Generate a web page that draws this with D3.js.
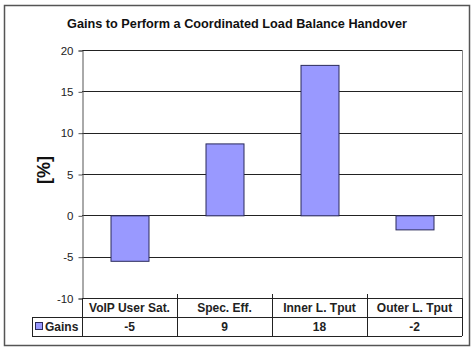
<!DOCTYPE html>
<html><head><meta charset="utf-8">
<script src="https://cdn.jsdelivr.net/npm/d3@7"></script>
<style>body{margin:0;background:#fff}svg{display:block}text{font-family:Arial,"Liberation Sans",sans-serif}</style>
</head><body>
<script>
const categories = ["VoIP User Sat.", "Spec. Eff.", "Inner L. Tput", "Outer L. Tput"];
const gains = [-5.5, 8.7, 18.2, -1.7];
const tableLabels = ["-5", "9", "18", "-2"];
const yTicks = [20, 15, 10, 5, 0, -5, -10];
const seriesName = "Gains";
const title = "Gains to Perform a Coordinated Load Balance Handover";

const W = 474, H = 349;
const svg = d3.select("body").append("svg").attr("width", W).attr("height", H);

// outer frame
svg.append("rect").attr("x", 4.5).attr("y", 5.5).attr("width", 465).attr("height", 340)
  .attr("fill", "#fff").attr("stroke", "#555").attr("stroke-width", 1.5);

const L = 82, R = 462, T = 50, B = 298;
const y = d3.scaleLinear().domain([-10, 20]).range([B, T]);
const x = d3.scaleBand().domain(categories).range([L, R]).paddingInner(0.6).paddingOuter(0.3);
const band = d3.scaleBand().domain(categories).range([L, R]);

// title
svg.append("text").attr("x", 237).attr("y", 28).attr("text-anchor", "middle")
  .attr("font-size", 12.7).attr("font-weight", "bold").attr("fill", "#111").text(title);

// gridlines
svg.append("g").selectAll("line").data(yTicks).join("line")
  .attr("x1", L).attr("x2", R).attr("y1", d => Math.round(y(d)) + 0.5).attr("y2", d => Math.round(y(d)) + 0.5)
  .attr("stroke", "#222").attr("stroke-width", 1);
// plot right border
svg.append("line").attr("x1", R + 0.5).attr("x2", R + 0.5).attr("y1", T).attr("y2", B).attr("stroke", "#888");

// y axis
const yAxis = d3.axisLeft(y).tickValues(yTicks).tickSize(4).tickPadding(5).tickFormat(d => String(d));
const ga = svg.append("g").attr("transform", `translate(${L + 0.5},0.5)`).call(yAxis);
ga.selectAll("path,line").attr("stroke", "#555");
ga.selectAll("text").attr("font-size", 11.5).attr("fill", "#222").attr("font-family", "Arial");

// y label
svg.append("text").attr("transform", `translate(50,170) rotate(-90)`)
  .attr("text-anchor", "middle").attr("font-size", 18).attr("font-weight", "bold").attr("fill", "#111").text("[%]");

// bars
svg.append("g").selectAll("rect").data(gains).join("rect")
  .attr("x", (d, i) => x(categories[i]) + 0.5)
  .attr("width", x.bandwidth())
  .attr("y", d => Math.min(y(d), y(0)) + 0.5)
  .attr("height", d => Math.abs(y(d) - y(0)))
  .attr("fill", "#9999ff").attr("stroke", "#2a2a5a").attr("stroke-width", 1);

// data table
const r0 = B, r1 = 317, r2 = 336, legL = 32;
const tg = svg.append("g").attr("stroke", "#222").attr("stroke-width", 1);
tg.append("line").attr("x1", L).attr("x2", R).attr("y1", r0 + 0.5).attr("y2", r0 + 0.5);
tg.append("line").attr("x1", legL).attr("x2", R).attr("y1", r1 + 0.5).attr("y2", r1 + 0.5);
tg.append("line").attr("x1", legL).attr("x2", R).attr("y1", r2 + 0.5).attr("y2", r2 + 0.5);
tg.append("line").attr("x1", legL + 0.5).attr("x2", legL + 0.5).attr("y1", r1).attr("y2", r2);
const seps = [L].concat(categories.map(c => band(c) + band.bandwidth()));
tg.selectAll("line.sep").data(seps).join("line").attr("class", "sep")
  .attr("x1", d => Math.round(d) + 0.5).attr("x2", d => Math.round(d) + 0.5)
  .attr("y1", (d, i) => (i === 0 || i === seps.length - 1) ? r0 : r0 - 4).attr("y2", r2);

svg.append("g").selectAll("text").data(categories).join("text")
  .attr("x", d => band(d) + band.bandwidth() / 2).attr("y", r0 + 14)
  .attr("text-anchor", "middle").attr("font-size", 12).attr("font-weight", "bold").attr("fill", "#222").text(d => d);
svg.append("g").selectAll("text").data(tableLabels).join("text")
  .attr("x", (d, i) => band(categories[i]) + band.bandwidth() / 2).attr("y", r1 + 14)
  .attr("text-anchor", "middle").attr("font-size", 12).attr("font-weight", "bold").attr("fill", "#222").text(d => d);

// legend cell
svg.append("rect").attr("x", 35.5).attr("y", 322.5).attr("width", 7).attr("height", 7)
  .attr("fill", "#9999ff").attr("stroke", "#2a2a5a");
svg.append("text").attr("x", 45).attr("y", r1 + 14).attr("font-size", 12).attr("font-weight", "bold")
  .attr("fill", "#222").text(seriesName);
</script>
</body></html>
